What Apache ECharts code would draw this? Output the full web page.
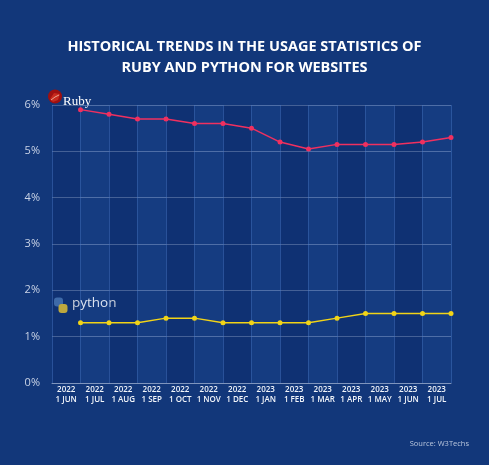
<!DOCTYPE html>
<html>
<head>
<meta charset="utf-8">
<style>
  html, body { margin: 0; padding: 0; background: #12377a; }
  #chart { width: 489px; height: 465px; }
</style>
<script src="https://cdn.jsdelivr.net/npm/echarts@6/dist/echarts.min.js"></script>
</head>
<body>
<div id="chart"></div>
<script>
const years = ['2022', '2022', '2022', '2022', '2022', '2022', '2022', '2023', '2023', '2023', '2023', '2023', '2023', '2023']
const months = ['1 JUN', '1 JUL', '1 AUG', '1 SEP', '1 OCT', '1 NOV', '1 DEC', '1 JAN', '1 FEB', '1 MAR', '1 APR', '1 MAY', '1 JUN', '1 JUL']
const rubyShare = [5.9, 5.8, 5.7, 5.7, 5.6, 5.6, 5.5, 5.2, 5.05, 5.15, 5.15, 5.15, 5.2, 5.3]
const pythonShare = [1.3, 1.3, 1.3, 1.4, 1.4, 1.3, 1.3, 1.3, 1.3, 1.4, 1.5, 1.5, 1.5, 1.5]
const yTicks = [0, 1, 2, 3, 4, 5, 6]

const chart = echarts.init(document.getElementById('chart'))

// points sit on the right edge of each month band
const toPoints = (arr) => arr.map((v, i) => [i + 1, v])

const option = {
  backgroundColor: '#12377a',
  animation: false,
  title: {
    text: 'HISTORICAL TRENDS IN THE USAGE STATISTICS OF\nRUBY AND PYTHON FOR WEBSITES',
    left: 'center',
    top: 31,
    textStyle: {
      color: '#ffffff',
      fontFamily: 'Open Sans',
      fontWeight: 'bold',
      fontSize: 14.5,
      lineHeight: 21
    }
  },
  grid: {
    left: 52,
    right: 38,
    top: 105,
    bottom: 82
  },
  xAxis: [
    {
      type: 'category',
      data: months.map((m, i) => years[i] + '\n' + m),
      boundaryGap: true,
      axisTick: { show: false },
      axisLine: { lineStyle: { color: '#7f95bd', width: 1 } },
      axisLabel: {
        color: '#f2f5fa',
        fontFamily: 'Open Sans',
        fontWeight: 600,
        fontSize: 8,
        lineHeight: 10,
        margin: 2,
        interval: 0
      },
      splitLine: { show: true, interval: 0, lineStyle: { color: 'rgba(80,130,210,0.4)', width: 1 } },
      splitArea: {
        show: true,
        interval: 0,
        areaStyle: { color: ['rgba(5,30,90,0.22)', 'rgba(40,85,165,0.16)'] }
      }
    },
    {
      type: 'value',
      min: 0,
      max: months.length,
      show: false
    }
  ],
  yAxis: {
    type: 'value',
    min: yTicks[0],
    max: yTicks[yTicks.length - 1],
    interval: 1,
    axisLine: { show: false },
    axisTick: { show: false },
    axisLabel: {
      formatter: '{value}%',
      color: '#c9d3e6',
      fontFamily: 'Open Sans',
      fontSize: 11,
      margin: 12
    },
    splitLine: { lineStyle: { color: 'rgba(190,205,235,0.4)', width: 1 } }
  },
  series: [
    {
      name: 'Ruby',
      type: 'line',
      xAxisIndex: 1,
      data: toPoints(rubyShare),
      symbol: 'circle',
      symbolSize: 5,
      lineStyle: { color: '#f0305f', width: 1.5 },
      itemStyle: { color: '#f0305f' }
    },
    {
      name: 'Python',
      type: 'line',
      xAxisIndex: 1,
      data: toPoints(pythonShare),
      symbol: 'circle',
      symbolSize: 5,
      lineStyle: { color: '#f2d417', width: 1.5 },
      itemStyle: { color: '#f2d417' }
    }
  ],
  graphic: [
    // ruby gem icon
    {
      type: 'circle',
      shape: { cx: 55, cy: 96.5, r: 7 },
      style: { fill: '#9e1010' }
    },
    {
      type: 'polygon',
      shape: { points: [[50, 99], [54, 93], [60, 94], [58, 100], [53, 102]] },
      style: { fill: '#c82a1e' }
    },
    {
      type: 'polyline',
      shape: { points: [[51, 100], [55, 97], [59, 95]] },
      style: { stroke: '#f0c8b0', lineWidth: 0.8, fill: null }
    },
    {
      type: 'text',
      left: 63,
      top: 95,
      style: { text: 'Ruby', fill: '#ffffff', font: '13px "Liberation Serif"' }
    },
    // python logo
    {
      type: 'rect',
      shape: { x: 54, y: 297.5, width: 9, height: 9, r: 3 },
      style: { fill: '#4f7fbf' }
    },
    {
      type: 'rect',
      shape: { x: 58.5, y: 304, width: 9, height: 9, r: 3 },
      style: { fill: '#f2cf36' }
    },
    {
      type: 'text',
      left: 72,
      top: 296,
      style: { text: 'python', fill: '#ffffff', font: '13.5px "Open Sans"' }
    },
    {
      type: 'text',
      right: 20,
      top: 440,
      style: { text: 'Source: W3Techs', fill: '#b9c6dd', font: '7.5px "Open Sans"' }
    }
  ]
}

option && chart.setOption(option)
</script>
</body>
</html>
